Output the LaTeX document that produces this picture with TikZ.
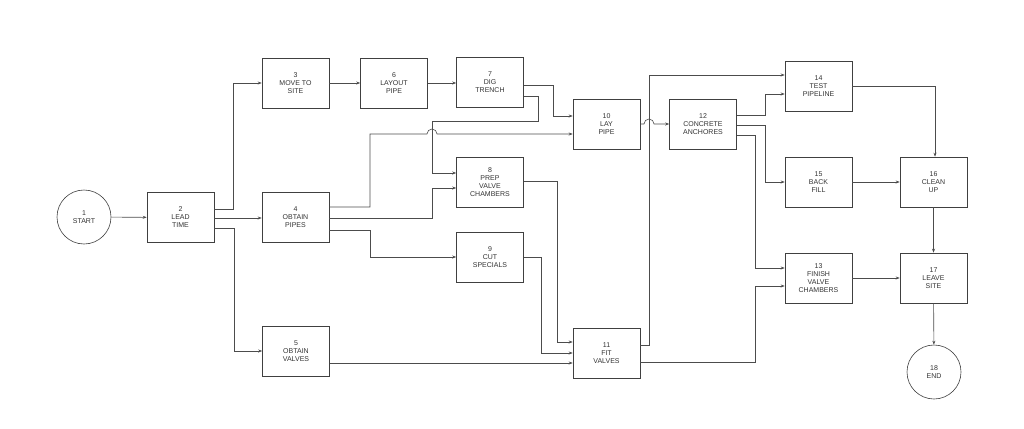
\documentclass[tikz,border=0pt]{standalone}
\usepackage{fontspec}
\setmainfont{Liberation Sans}
\usetikzlibrary{arrows.meta}
\begin{document}
\begin{tikzpicture}[x=1pt,y=-1pt,
  box/.style={draw=black!75,line width=0.6pt,minimum width=67pt,minimum height=50pt,inner sep=0pt,align=center,font=\fontsize{7}{8}\selectfont,text=black!80},
  circ/.style={draw=black!75,line width=0.6pt,circle,minimum size=54pt,inner sep=0pt,align=center,font=\fontsize{7}{8}\selectfont,text=black!80},
  link/.style={draw=black!70,line width=0.6pt,-{Stealth[length=4pt,width=3pt]}}]
\useasboundingbox (0,0) rectangle (1024,428);
\node[circ] (n1) at (84,217) {1\\START};
\node[box] (n2) at (180.5,217.5) {2\\LEAD\\TIME};
\node[box] (n3) at (295.5,83) {3\\MOVE TO\\SITE};
\node[box] (n6) at (394,83) {6\\LAYOUT\\PIPE};
\node[box] (n7) at (490,82) {7\\DIG\\TRENCH};
\node[box] (n10) at (606.5,124.5) {10\\LAY\\PIPE};
\node[box] (n8) at (490,182) {8\\PREP\\VALVE\\CHAMBERS};
\node[box] (n4) at (295.5,217) {4\\OBTAIN\\PIPES};
\node[box] (n9) at (490,257) {9\\CUT\\SPECIALS};
\node[box] (n5) at (296,351) {5\\OBTAIN\\VALVES};
\node[box] (n11) at (606.5,353.5) {11\\FIT\\VALVES};
\node[box] (n12) at (703,124) {12\\CONCRETE\\ANCHORES};
\node[box] (n14) at (818.5,86) {14\\TEST\\PIPELINE};
\node[box] (n15) at (818.5,182) {15\\BACK\\FILL};
\node[box] (n13) at (818.5,278) {13\\FINISH\\VALVE\\CHAMBERS};
\node[box] (n16) at (933.5,182) {16\\CLEAN\\UP};
\node[box] (n17) at (933.5,278) {17\\LEAVE\\SITE};
\node[circ] (n18) at (934,372) {18\\END};
\draw[link] (n1) -- (n2);
\draw[link] (n2.east |- 0,209) -- (233,209) -- (233,83) -- (n3.west);
\draw[link] (n2.east |- 0,218) -- (n4.west |- 0,218);
\draw[link] (n2.east |- 0,228) -- (234,228) -- (234,351) -- (n5.west);
\draw[link] (n3) -- (n6);
\draw[link] (n6) -- (n7.west |- n6);
\draw[link] (n7.east |- 0,85) -- (553,85) -- (553,116) -- (n10.west |- 0,116);
\draw[link] (n7.east |- 0,96) -- (538,96) -- (538,121) -- (432,121) -- (432,173) -- (n8.west |- 0,173);
\draw[link] (n4.east |- 0,207) -- (370,207) -- (370,134) -- (427,134) arc (180:360:5) -- (n10.west |- 0,134);
\draw[link] (n4.east |- 0,218) -- (432,218) -- (432,188) -- (n8.west |- 0,188);
\draw[link] (n4.east |- 0,230) -- (370,230) -- (370,257) -- (n9.west);
\draw[link] (n8.east |- 0,181) -- (557,181) -- (557,342) -- (n11.west |- 0,342);
\draw[link] (n9.east |- 0,257) -- (541,257) -- (541,353) -- (n11.west |- 0,353);
\draw[link] (n5.east |- 0,363) -- (n11.west |- 0,363);
\draw[link] (n11.east |- 0,345) -- (649,345) -- (649,75) -- (n14.west |- 0,75);
\draw[link] (n10.east |- 0,124) -- (644,124) arc (180:360:5) -- (n12.west |- 0,124);
\draw[link] (n11.east |- 0,362) -- (755,362) -- (755,286) -- (n13.west |- 0,286);
\draw[link] (n12.east |- 0,115) -- (765,115) -- (765,94) -- (n14.west |- 0,94);
\draw[link] (n12.east |- 0,125) -- (765,125) -- (765,182) -- (n15.west);
\draw[link] (n12.east |- 0,135) -- (755,135) -- (755,268) -- (n13.west |- 0,268);
\draw[link] (n14.east |- 0,86) -- (935,86) -- (n16.north -| 935,0);
\draw[link] (n15) -- (n16);
\draw[link] (n16) -- (n17);
\draw[link] (n13) -- (n17);
\draw[link] (n17) -- (n18);
\end{tikzpicture}
\end{document}
